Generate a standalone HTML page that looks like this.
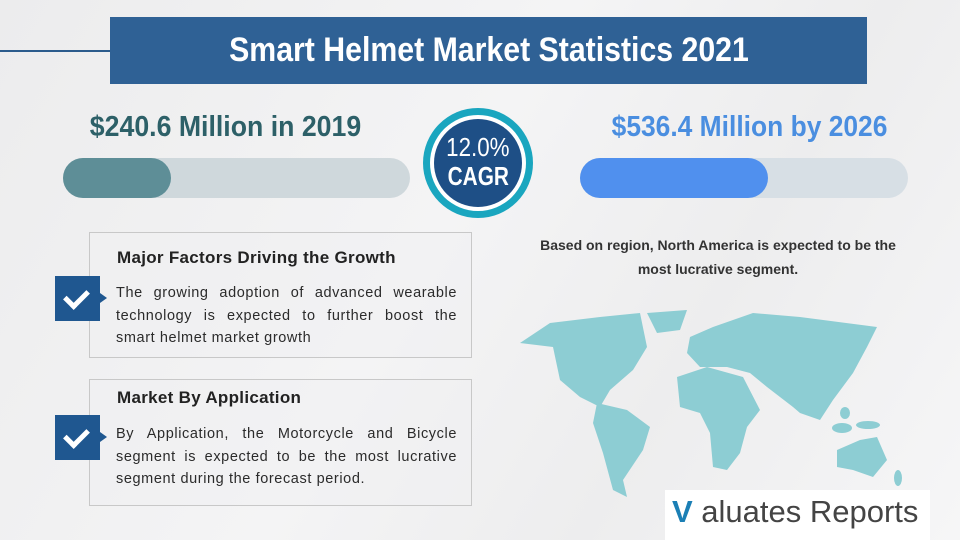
<!DOCTYPE html>
<html><head><meta charset="utf-8"><style>
body{margin:0;width:960px;height:540px;overflow:hidden;font-family:"Liberation Sans",sans-serif;}
#bg{position:absolute;left:0;top:0;width:960px;height:540px;background:linear-gradient(120deg,#ececed 0%,#f4f4f5 45%,#ededee 70%,#f6f6f7 100%);}
.abs{position:absolute;}
.box{position:absolute;left:89px;width:381px;border:1.5px solid #c8c8c8;background:rgba(240,240,241,0.6);}
.box h3{margin:0;position:absolute;left:27px;font-size:17px;color:#222;letter-spacing:0.3px;}
.box p{margin:0;position:absolute;left:26px;width:341px;font-size:14.5px;line-height:22.5px;color:#2b2b2b;text-align:justify;letter-spacing:0.6px;}
.chk{position:absolute;left:55px;width:45px;height:45px;background:#1f5790;}
.chk:after{content:"";position:absolute;left:14px;top:9px;width:10px;height:18px;border-right:5px solid #fff;border-bottom:5px solid #fff;transform:rotate(45deg);}
.arr{position:absolute;left:100px;width:0;height:0;border-top:5px solid transparent;border-bottom:5px solid transparent;border-left:7px solid #1f5790;}
.cond{display:inline-block;transform:scaleX(0.86);transform-origin:center;}
</style></head><body>
<div id="bg"></div>
<div class="abs" style="left:0;top:50px;width:112px;height:2px;background:#2b5b8c"></div>
<div class="abs" style="left:110px;top:17px;width:757px;height:67px;background:#2f6195;color:#fff;font-weight:bold;font-size:34px;text-align:center;line-height:67px;"><span class="cond" style="transform:scaleX(0.89)">Smart Helmet Market Statistics 2021</span></div>
<div class="abs" style="left:60px;top:111px;width:330px;text-align:center;font-weight:bold;font-size:29px;color:#2d6068;"><span class="cond" style="transform:scaleX(0.92)">$240.6 Million in 2019</span></div>
<div class="abs" style="left:585px;top:111px;width:330px;text-align:center;font-weight:bold;font-size:29px;color:#4a8ee0;"><span class="cond" style="transform:scaleX(0.91)">$536.4 Million by 2026</span></div>
<div class="abs" style="left:63px;top:158px;width:347px;height:40px;border-radius:20px;background:#cfd8dc;"></div>
<div class="abs" style="left:63px;top:158px;width:108px;height:40px;border-radius:20px;background:#5e8e97;"></div>
<div class="abs" style="left:580px;top:158px;width:328px;height:40px;border-radius:20px;background:#d7dfe5;"></div>
<div class="abs" style="left:580px;top:158px;width:188px;height:40px;border-radius:20px;background:#5090ee;"></div>
<div class="abs" style="left:423px;top:108px;width:110px;height:110px;border-radius:50%;background:#1aa6bf;"></div>
<div class="abs" style="left:430px;top:115px;width:96px;height:96px;border-radius:50%;background:#fff;"></div>
<div class="abs" style="left:434px;top:119px;width:88px;height:88px;border-radius:50%;background:#1e4f86;color:#fff;font-size:26px;text-align:center;line-height:29px;"><div style="margin-top:14px"><span class="cond">12.0%</span></div><div style="font-weight:bold"><span class="cond" style="transform:scaleX(0.8)">CAGR</span></div></div>

<div class="box" style="top:232px;height:124px;"><h3 style="top:15px">Major Factors Driving the Growth</h3><p style="top:49px">The growing adoption of advanced wearable technology is expected to further boost the smart helmet market growth</p></div>
<div class="chk" style="top:276px"></div><div class="arr" style="top:293px"></div>
<div class="box" style="top:379px;height:125px;"><h3 style="top:8px">Market By Application</h3><p style="top:43px">By Application, the Motorcycle and Bicycle segment is expected to be the most lucrative segment during the forecast period.</p></div>
<div class="chk" style="top:415px"></div><div class="arr" style="top:432px"></div>

<div class="abs" style="left:500px;top:233px;width:436px;text-align:center;font-weight:bold;font-size:14px;line-height:24px;color:#333;">Based on region, North America is expected to be the<br>most lucrative segment.</div>

<svg class="abs" style="left:0;top:0" width="960" height="540">
<g fill="#8dcdd3">
<polygon points="520,343 550,323 600,317 640,313 647,347 633,370 610,390 600,407 580,397 560,380 553,347"/>
<polygon points="647,313 687,310 680,330 657,333"/>
<polygon points="597,403 627,410 650,427 643,450 623,480 627,497 613,490 603,453 593,423"/>
<polygon points="690,337 713,327 753,313 800,317 877,327 867,347 853,373 833,400 820,420 800,413 793,407 767,387 750,373 727,367 700,367 687,353"/>
<polygon points="677,377 707,367 743,377 760,410 747,427 740,453 727,470 713,467 710,433 700,413 680,407"/>
<polygon points="837,450 860,440 877,437 887,460 873,477 853,470 837,467"/>
<ellipse cx="842" cy="428" rx="10" ry="5"/><ellipse cx="868" cy="425" rx="12" ry="4"/><ellipse cx="845" cy="413" rx="5" ry="6"/>
<ellipse cx="898" cy="478" rx="4" ry="8"/>
</g>
</svg>

<div class="abs" style="left:665px;top:490px;width:265px;height:50px;background:#fff;"></div>
<div class="abs" style="left:672px;top:494px;font-size:31px;color:#444;"><span style="color:#1b7fb5;font-weight:bold">V</span> aluates Reports</div>
</body></html>
